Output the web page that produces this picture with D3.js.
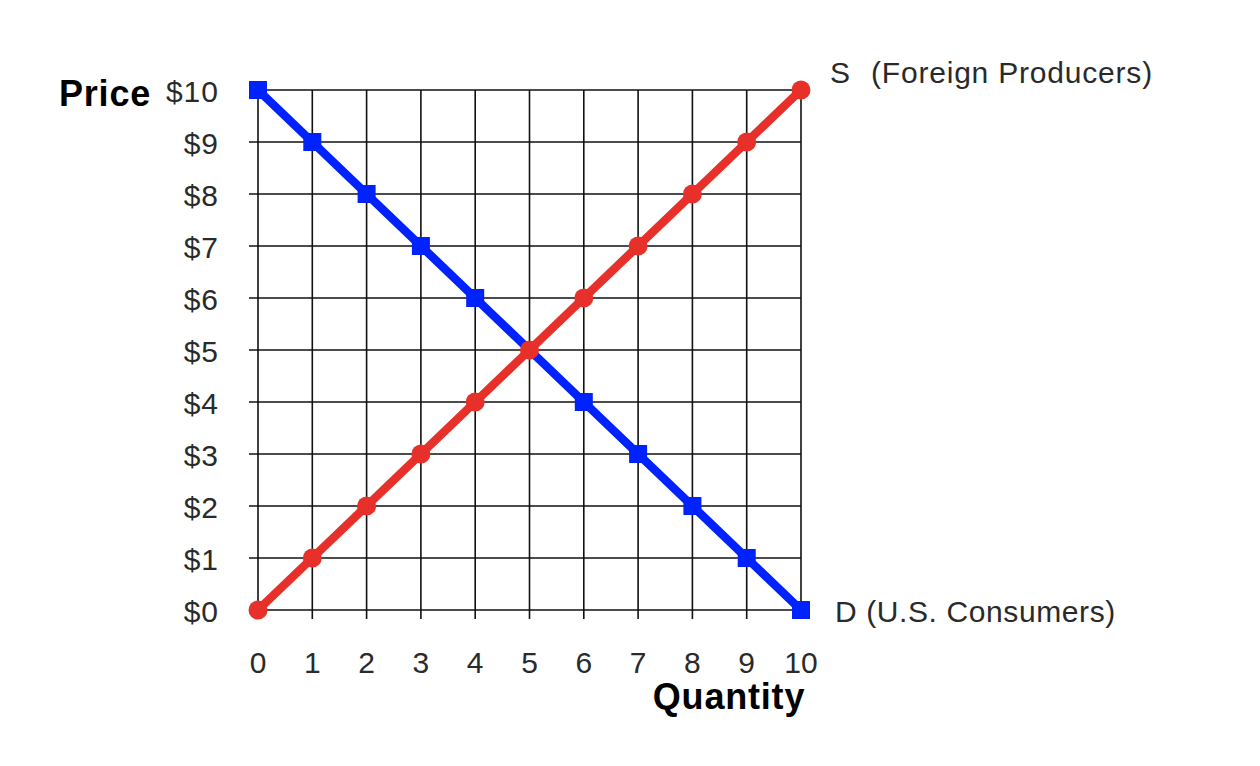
<!DOCTYPE html>
<html><head><meta charset="utf-8">
<script src="https://cdn.jsdelivr.net/npm/d3@7"></script>
<style>body{margin:0;background:#fff}svg{display:block}text{font-family:"Liberation Sans",Arial,sans-serif}</style>
</head><body>
<svg id="c" width="1260" height="766"></svg>
<script>
const quantities = [0,1,2,3,4,5,6,7,8,9,10];
const supplyPrice = [0,1,2,3,4,5,6,7,8,9,10];
const demandPrice = [10,9,8,7,6,5,4,3,2,1,0];
const demandMarkers = [0,1,2,3,4,6,7,8,9,10];
const priceTicks = [0,1,2,3,4,5,6,7,8,9,10];
const qtyTicks = [0,1,2,3,4,5,6,7,8,9,10];

const svg = d3.select("#c");
const x = d3.scaleLinear().domain([0,10]).range([258,801]);
const y = d3.scaleLinear().domain([0,10]).range([610,90]);

const g = svg.append("g");
g.selectAll(".vg").data(qtyTicks).join("line")
  .attr("x1",d=>x(d)).attr("x2",d=>x(d)).attr("y1",y(10)).attr("y2",y(0)+9)
  .attr("stroke","#111").attr("stroke-width",1.6);
g.selectAll(".hg").data(priceTicks).join("line")
  .attr("y1",d=>y(d)).attr("y2",d=>y(d)).attr("x1",x(0)-9).attr("x2",x(10))
  .attr("stroke","#111").attr("stroke-width",1.6);

g.selectAll(".yl").data(priceTicks).join("text")
  .attr("x",219).attr("y",d=>y(d)+12).attr("text-anchor","end")
  .attr("font-size",30).attr("letter-spacing",1).attr("fill","#2a2a2a").text(d=>"$"+d);
g.selectAll(".xl").data(qtyTicks).join("text")
  .attr("x",d=>x(d)).attr("y",673).attr("text-anchor","middle")
  .attr("font-size",30).attr("fill","#2a2a2a").text(d=>d);

svg.append("text").attr("x",59).attr("y",106).attr("font-size",36).attr("letter-spacing",0.8).attr("font-weight","bold").attr("fill","#000").text("Price");
svg.append("text").attr("x",729).attr("y",709).attr("text-anchor","middle").attr("font-size",36).attr("letter-spacing",0.8).attr("font-weight","bold").attr("fill","#000").text("Quantity");

const line = d3.line().x(d=>x(d[0])).y(d=>y(d[1]));
const dData = quantities.map((q,i)=>[q,demandPrice[i]]);
const sData = quantities.map((q,i)=>[q,supplyPrice[i]]);

svg.append("path").attr("d",line(dData)).attr("fill","none").attr("stroke","#0022ff").attr("stroke-width",8.5);
svg.selectAll(".dm").data(demandMarkers).join("rect")
  .attr("x",q=>x(q)-9).attr("y",q=>y(demandPrice[quantities.indexOf(q)])-9)
  .attr("width",18).attr("height",18).attr("fill","#0022ff");

svg.append("path").attr("d",line(sData)).attr("fill","none").attr("stroke","#e8302a").attr("stroke-width",8.5);
svg.selectAll(".sm").data(sData).join("circle")
  .attr("cx",d=>x(d[0])).attr("cy",d=>y(d[1])).attr("r",9.5).attr("fill","#e8302a");

svg.append("text").attr("x",830).attr("y",83).attr("font-size",30).attr("fill","#2a2a2a").text("S");
svg.append("text").attr("x",871).attr("y",83).attr("font-size",30).attr("letter-spacing",0.8).attr("fill","#2a2a2a").text("(Foreign Producers)");
svg.append("text").attr("x",835).attr("y",622).attr("font-size",30).attr("letter-spacing",0.6).attr("fill","#2a2a2a").text("D (U.S. Consumers)");
</script>
</body></html>
